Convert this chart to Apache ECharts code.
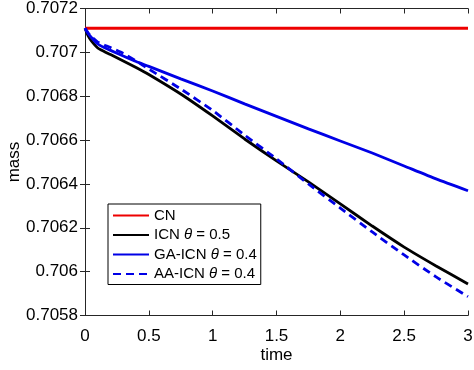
<!DOCTYPE html>
<html>
<head>
<meta charset="utf-8">
<script src="https://cdn.jsdelivr.net/npm/echarts@6/dist/echarts.min.js"></script>
<style>html,body{margin:0;padding:0;background:#fff}#c{width:474px;height:370px}</style>
</head>
<body>
<div id="c"></div>
<script>
var times = [0, 0.025, 0.05, 0.1, 0.15, 0.2, 0.3, 0.4, 0.5, 0.75, 1, 1.25, 1.5, 1.75, 2, 2.25, 2.5, 2.75, 3];
var cnVals = [0.70711, 0.70711, 0.70711, 0.70711, 0.70711, 0.70711, 0.70711, 0.70711, 0.70711, 0.70711, 0.70711, 0.70711, 0.70711, 0.70711, 0.70711, 0.70711, 0.70711, 0.70711, 0.70711];
var icnVals = [0.70711, 0.707075, 0.707052, 0.707020, 0.707004, 0.706990, 0.706961, 0.706931, 0.706899, 0.706810, 0.706710, 0.706605, 0.706505, 0.706409, 0.706309, 0.706208, 0.706112, 0.706026, 0.705944];
var gaVals = [0.70711, 0.707086, 0.707068, 0.707038, 0.707022, 0.707009, 0.706983, 0.706958, 0.706936, 0.706879, 0.706824, 0.706765, 0.706708, 0.706651, 0.706596, 0.706541, 0.706482, 0.706423, 0.706369];
var aaVals = [0.70711, 0.707088, 0.707072, 0.707047, 0.707034, 0.707022, 0.706995, 0.706961, 0.706924, 0.706833, 0.706735, 0.706623, 0.706514, 0.706400, 0.706290, 0.706181, 0.706076, 0.705976, 0.705886];
var seriesNames = ['CN', 'ICN θ = 0.5', 'GA-ICN θ = 0.4', 'AA-ICN θ = 0.4'];
var xTicks = {min: 0, max: 3, interval: 0.5};
var yTicks = {min: 0.7058, max: 0.7072, interval: 0.0002};

function pairs(vals) { return times.map(function (t, i) { return [t, vals[i]]; }); }

var font = '"Liberation Sans", Arial, Helvetica, sans-serif';
var axisCol = '#262626';
var baseAxis = {
  type: 'value',
  axisLine: {show: true, lineStyle: {color: axisCol, width: 1}},
  axisTick: {show: true, inside: true, length: 5, lineStyle: {color: axisCol, width: 1}},
  splitLine: {show: false}
};
function ax(extra) { return Object.assign({}, JSON.parse(JSON.stringify(baseAxis)), extra); }

var chart = echarts.init(document.getElementById('c'), null, {renderer: 'canvas'});
chart.setOption({
  animation: false,
  backgroundColor: '#fff',
  grid: {left: 85, right: 6, top: 8.5, bottom: 54.5, containLabel: false, outerBoundsMode: 'none'},
  xAxis: [
    ax({position: 'bottom', min: xTicks.min, max: xTicks.max, interval: xTicks.interval,
        name: 'time', nameLocation: 'middle', nameGap: 31, nameMoveOverlap: false,
        nameTextStyle: {fontFamily: font, fontSize: 17, color: '#000'},
        axisLabel: {fontFamily: font, fontSize: 17, color: '#000', margin: 12,
          formatter: function (v) { return String(parseFloat(v.toFixed(2))); }}}),
    ax({position: 'top', min: xTicks.min, max: xTicks.max, interval: xTicks.interval, axisLabel: {show: false}})
  ],
  yAxis: [
    ax({position: 'left', min: yTicks.min, max: yTicks.max, interval: yTicks.interval,
        name: 'mass', nameLocation: 'middle', nameGap: 62, nameMoveOverlap: false,
        nameTextStyle: {fontFamily: font, fontSize: 17, color: '#000'},
        axisLabel: {fontFamily: font, fontSize: 17, color: '#000', margin: 7,
          formatter: function (v) { return String(parseFloat(v.toFixed(4))); }}}),
    ax({position: 'right', min: yTicks.min, max: yTicks.max, interval: yTicks.interval, axisLabel: {show: false}})
  ],
  legend: {
    left: 108, top: 204, orient: 'vertical',
    backgroundColor: '#fff', borderColor: '#000', borderWidth: 1, borderRadius: 0,
    padding: [4, 4, 3, 4], itemGap: 4.5, itemWidth: 36, itemHeight: 16,
    itemStyle: {opacity: 0},
    textStyle: {fontFamily: font, fontSize: 15, color: '#000',
      rich: {i: {fontFamily: font, fontSize: 15, fontStyle: 'italic', color: '#000'},
             n: {fontFamily: font, fontSize: 15, color: '#000'}}},
    formatter: function (name) {
      var parts = name.split('θ');
      if (parts.length < 2) return '{n|' + name + '}';
      return '{n|' + parts[0] + '}{i|θ}{n|' + parts[1] + '}';
    },
    data: seriesNames
  },
  series: [
    {name: seriesNames[0], type: 'line', data: pairs(cnVals), symbol: 'none', lineStyle: {color: '#ee0000', width: 2.8}, itemStyle: {color: '#ee0000'}},
    {name: seriesNames[1], type: 'line', data: pairs(icnVals), symbol: 'none', smooth: 0.2, lineStyle: {color: '#000000', width: 2.8}, itemStyle: {color: '#000000'}},
    {name: seriesNames[2], type: 'line', data: pairs(gaVals), symbol: 'none', smooth: 0.2, lineStyle: {color: '#0000e6', width: 2.8}, itemStyle: {color: '#0000e6'}},
    {name: seriesNames[3], type: 'line', data: pairs(aaVals), symbol: 'none', smooth: 0.2, lineStyle: {color: '#0000e6', width: 2.8, type: [8, 5]}, itemStyle: {color: '#0000e6'}}
  ]
});
</script>
</body>
</html>
